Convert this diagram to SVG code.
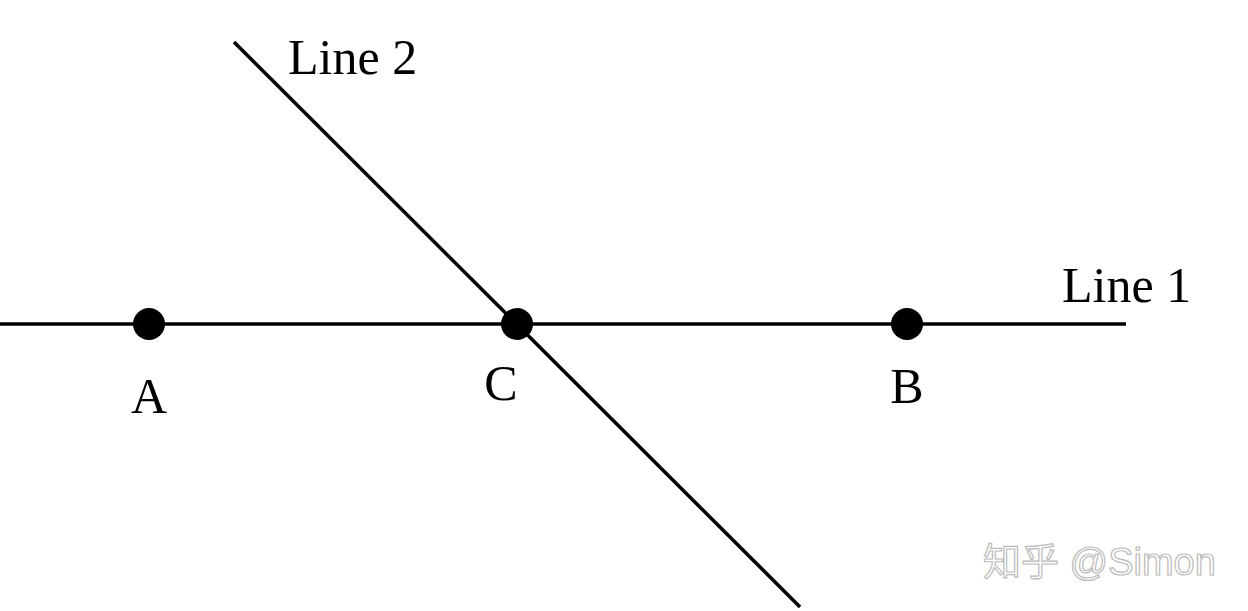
<svg xmlns="http://www.w3.org/2000/svg" width="1248" height="611" viewBox="0 0 1248 611">
<style>
.ln{stroke:#000;stroke-width:3.5;fill:none}
.t{font-family:"Liberation Serif",serif;font-size:50px;fill:#000}
.wm{font-family:"Liberation Sans","Noto Sans CJK SC",sans-serif;font-size:38px;fill:#fff;stroke:#bbb;stroke-width:1.2}
</style>
<rect width="1248" height="611" fill="#fff"/>
<g id="connectors">
<line class="ln" x1="0" y1="324" x2="1126" y2="324"/>
<line class="ln" x1="234" y1="42" x2="800" y2="607"/>
</g>
<g id="A"><circle cx="149" cy="324" r="16"/><text class="t" x="149" y="413" text-anchor="middle">A</text></g>
<g id="C"><circle cx="517" cy="324" r="16"/><text class="t" x="501" y="400" text-anchor="middle">C</text></g>
<g id="B"><circle cx="907" cy="324" r="16"/><text class="t" x="907" y="403" text-anchor="middle">B</text></g>
<text class="t" x="288" y="74">Line 2</text>
<text class="t" x="1062" y="302">Line 1</text>
<text class="wm" x="983" y="575">知乎 @Simon</text>
</svg>
